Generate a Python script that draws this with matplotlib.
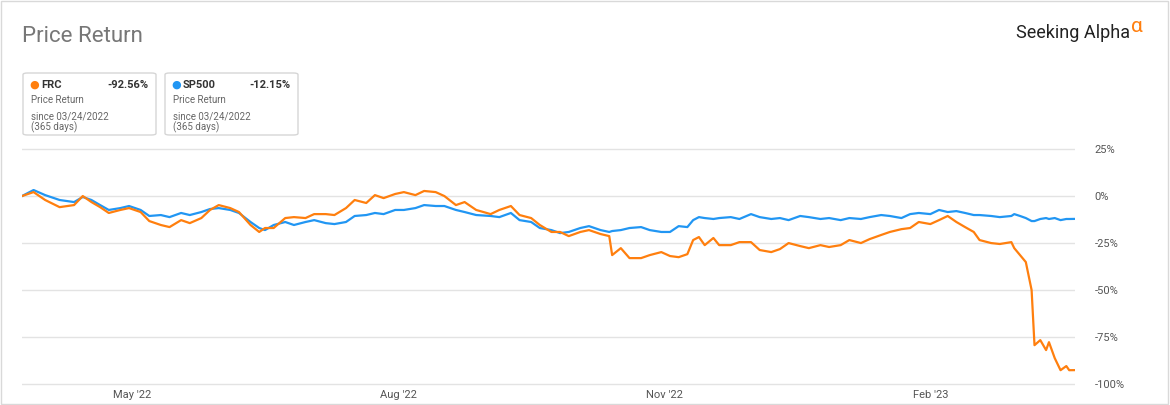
import matplotlib
matplotlib.use("Agg")
import matplotlib.pyplot as plt
from matplotlib.patches import FancyBboxPatch, Rectangle
import datetime as dt

plt.rcParams['font.family'] = ['Roboto', 'DejaVu Sans']

start = dt.date(2022, 3, 24)
day_offsets = [0,4,8,13,18,21,24,27,30,34,37,41,44,48,51,55,58,62,65,68,72,75,79,82,84,87,91,94,98,101,105,108,112,115,119,122,125,129,132,136,139,143,146,150,153,157,162,165,169,172,176,179,183,186,189,193,196,200,203,204,207,210,214,217,221,224,227,230,232,234,236,239,241,245,248,252,255,259,262,265,269,272,276,279,283,286,290,293,297,300,304,307,310,314,317,320,323,326,329,331,335,338,342,343,345,347,349,350,352,354,355,357,359,361,362,364]
frc = [0,2.1,-2.1,-5.9,-4.8,0,-3.2,-5.9,-9.0,-7.4,-6.4,-8.5,-13.3,-15.4,-16.5,-12.8,-14.4,-11.7,-7.4,-4.8,-6.4,-8.5,-15.4,-19.1,-17.0,-17.0,-11.7,-11.2,-11.7,-9.6,-9.6,-10.1,-6.4,-2.1,-3.7,0.5,-1.1,1.1,2.1,0.5,2.7,2.1,0,-4.8,-3.2,-7.4,-9.6,-7.4,-5.3,-10.1,-11.7,-15.4,-19.1,-19.1,-21.3,-19.1,-18.1,-20.2,-21.3,-31.4,-27.7,-33.0,-33.0,-31.4,-29.8,-31.9,-32.5,-30.9,-23.4,-21.8,-26.1,-22.3,-26.1,-26.1,-24.5,-24.5,-28.7,-29.8,-28.2,-25.0,-26.6,-27.7,-26.1,-27.1,-26.1,-23.4,-25.0,-22.9,-20.7,-19.1,-17.6,-17.0,-13.8,-14.9,-12.8,-10.6,-13.8,-16.5,-19.1,-23.4,-25.0,-25.5,-24.5,-27.7,-31.4,-35.1,-50.0,-79.3,-76.6,-81.9,-77.7,-86.2,-92.6,-90.4,-92.6,-92.56]
sp500 = [0,3.2,0.5,-2.1,-3.2,-0.5,-2.1,-4.8,-7.4,-6.4,-5.3,-7.4,-10.6,-10.1,-11.2,-9.0,-10.1,-8.5,-6.9,-6.4,-7.4,-9.0,-13.8,-17.0,-18.1,-15.4,-13.8,-15.4,-13.8,-12.8,-14.4,-14.9,-13.8,-10.6,-10.1,-9.0,-9.6,-7.4,-7.4,-6.4,-4.8,-5.3,-5.3,-7.4,-8.5,-10.1,-10.6,-11.2,-9.0,-12.8,-13.8,-17.0,-18.1,-19.7,-19.1,-17.0,-16.0,-18.1,-19.1,-18.6,-18.1,-17.0,-16.5,-18.1,-19.1,-19.1,-16.0,-16.5,-12.8,-11.2,-11.7,-12.2,-11.7,-11.2,-12.2,-9.6,-11.2,-12.2,-11.7,-12.8,-10.6,-11.2,-12.2,-11.7,-12.8,-11.7,-12.2,-11.2,-10.1,-10.6,-11.7,-9.6,-9.0,-9.6,-7.4,-8.5,-8.0,-9.0,-10.1,-10.1,-10.6,-11.2,-10.6,-9.6,-10.6,-11.7,-13.3,-13.3,-12.2,-11.7,-12.2,-11.7,-12.8,-12.2,-12.2,-12.15]
yticks = [25, 0, -25, -50, -75, -100]
ytick_labels = ['25%', '0%', '-25%', '-50%', '-75%', '-100%']
xtick_dates = [dt.date(2022,5,1), dt.date(2022,8,1), dt.date(2022,11,1), dt.date(2023,2,1)]
xtick_labels = ["May '22", "Aug '22", "Nov '22", "Feb '23"]

dates = [start + dt.timedelta(days=d) for d in day_offsets]
ORANGE = '#ff7f0e'
BLUE = '#2196f3'

fig = plt.figure(figsize=(11.7, 4.05), dpi=100)
fig.patches.append(Rectangle((0.001, 0.002), 0.997, 0.995, transform=fig.transFigure,
                             fill=False, edgecolor='#d9d9d9', lw=1))
ax = fig.add_axes([22/1170, 1-386/405, (1075-22)/1170, (386-140)/405])
ax.plot(dates, sp500, color=BLUE, lw=1.6, zorder=3)
ax.plot(dates, frc, color=ORANGE, lw=1.6, zorder=4)
ax.set_xlim(dates[0], dates[-1])
ax.set_ylim(-101, 29.8)
ax.set_yticks(yticks)
ax.set_yticklabels(ytick_labels)
ax.yaxis.tick_right()
ax.grid(axis='y', color='#e3e3e3', lw=1)
ax.set_xticks(xtick_dates)
ax.set_xticklabels(xtick_labels)
ax.tick_params(axis='y', length=0, labelsize=8, colors='#555555', pad=14)
ax.tick_params(axis='x', length=0, labelsize=8, colors='#555555', pad=3)
for s in ['top', 'left', 'right', 'bottom']:
    ax.spines[s].set_visible(False)

fig.text(22/1170, 1-37/405, 'Price Return', fontsize=16, color='#777777', va='center')
fig.text(1130/1170, 1-33/405, 'Seeking Alpha', fontsize=13, color='#222222', va='center', ha='right')
fig.text(1131/1170, 1-26/405, 'α', fontsize=15, color=ORANGE, va='center', ha='left')

def box(x0, name, val, color):
    w, h = 133, 62
    fig.patches.append(FancyBboxPatch((x0/1170, 1-135/405), w/1170, h/405,
                       boxstyle='round,pad=0,rounding_size=0.004', transform=fig.transFigure,
                       fill=False, edgecolor='#d6d6d6', lw=1))
    fig.text((x0+6)/1170, 1-85/405, '●', fontsize=8, color=color, va='center')
    fig.text((x0+18)/1170, 1-85/405, name, fontsize=8, weight='bold', color='#333333', va='center')
    fig.text((x0+126)/1170, 1-85/405, val, fontsize=8, weight='bold', color='#333333', va='center', ha='right')
    fig.text((x0+8)/1170, 1-100/405, 'Price Return', fontsize=7, color='#666666', va='center')
    fig.text((x0+8)/1170, 1-116/405, 'since 03/24/2022', fontsize=7, color='#666666', va='center')
    fig.text((x0+8)/1170, 1-127/405, '(365 days)', fontsize=7, color='#666666', va='center')

box(23, 'FRC', f'{frc[-1]:.2f}%', ORANGE)
box(165, 'SP500', f'{sp500[-1]:.2f}%', BLUE)

fig.savefig('out.png', dpi=100)
